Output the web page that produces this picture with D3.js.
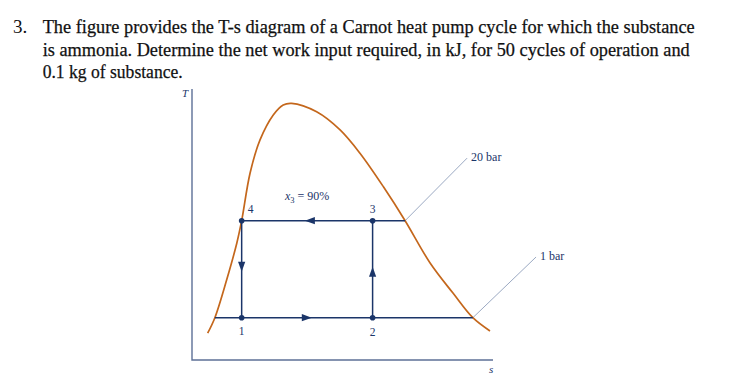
<!DOCTYPE html>
<html>
<head>
<meta charset="utf-8">
<script src="https://cdn.jsdelivr.net/npm/d3@7"></script>
<style>
	body { margin: 0; background: #fff; }
	svg { display: block; }
</style>
</head>
<body>
<script>
	// текст задачи
	const questionLines = [
		"The figure provides the T-s diagram of a Carnot heat pump cycle for which the substance",
		"is ammonia. Determine the net work input required, in kJ, for 50 cycles of operation and",
		"0.1 kg of substance."
	];
	const questionLengths = [652, 647, 140];

	// купол насыщения (s, T) в условных единицах
	const domeS = [0.52, 0.76, 1.15, 1.49, 1.65, 1.93, 2.26, 2.70, 3.03, 3.31, 4.14, 4.92, 5.58, 6.36, 7.08, 7.91, 8.67, 9.33, 9.90];
	const domeT = [0.99, 1.56, 2.95, 4.32, 5.14, 6.90, 8.12, 9.04, 9.41, 9.47, 9.16, 8.49, 7.63, 6.39, 5.14, 3.58, 2.47, 1.56, 1.07];

	// состояния цикла
	const stateNames = ["1", "2", "3", "4"];
	const stateS = [1.65, 6.0, 6.0, 1.65];
	const stateT = [1.56, 1.56, 5.14, 5.14];

	// изобары: начало на куполе, конец на куполе
	const isobarLabels = ["1 bar", "20 bar"];
	const isobarT = [1.56, 5.14];
	const isobarS0 = [0.76, 1.65];
	const isobarS1 = [9.33, 7.08];
	const leaderS = [11.43, 9.14];
	const leaderT = [3.80, 7.45];

	// стрелки на процессах
	const arrowS = [3.98, 6.0, 3.75, 1.65];
	const arrowT = [1.56, 3.44, 5.14, 3.26];
	const arrowDir = ["right", "up", "left", "down"];

	const w = 745,
		h = 382;

	const navy = "#1b3569",
		brown = "#c4671c",
		axisColor = "#5d7097",
		thin = "#8193b3";

	const x = d3.scaleLinear().domain([0, 10]).range([192, 493]),
		y = d3.scaleLinear().domain([0, 10]).range([360, 89]);

	const svg = d3.select("body").append("svg")
		.attr("width", w)
		.attr("height", h);

	// заголовок
	svg.append("text")
		.attr("x", 13)
		.attr("y", 33)
		.attr("font-family", "Liberation Serif, serif")
		.attr("font-size", 19)
		.attr("fill", "#111")
		.text("3.");

	svg.selectAll("text.q")
		.data(questionLines)
		.enter()
		.append("text")
		.attr("class", "q")
		.attr("x", 42.7)
		.attr("y", (d, i) => 33 + i * 22.5)
		.attr("font-family", "Liberation Serif, serif")
		.attr("font-size", 19)
		.attr("fill", "#111")
		.attr("stroke", "#111")
		.attr("stroke-width", 0.25)
		.attr("textLength", (d, i) => questionLengths[i])
		.attr("lengthAdjust", "spacingAndGlyphs")
		.text(d => d);

	// оси
	svg.append("path")
		.attr("d", `M${x(0)},${y(10)}V${y(0)}H${x(10)}`)
		.attr("fill", "none")
		.attr("stroke", axisColor)
		.attr("stroke-width", 1.4);

	svg.append("text")
		.attr("x", x(0) - 10)
		.attr("y", y(10) + 8)
		.attr("font-family", "Liberation Serif, serif")
		.attr("font-style", "italic")
		.attr("font-size", 11)
		.attr("fill", navy)
		.text("T");

	svg.append("text")
		.attr("x", x(10) - 4)
		.attr("y", y(0) + 13)
		.attr("font-family", "Liberation Serif, serif")
		.attr("font-style", "italic")
		.attr("font-size", 11)
		.attr("fill", navy)
		.text("s");

	// выноски изобар
	svg.selectAll("line.leader")
		.data(isobarLabels)
		.enter()
		.append("line")
		.attr("class", "leader")
		.attr("x1", (d, i) => x(isobarS1[i]))
		.attr("y1", (d, i) => y(isobarT[i]))
		.attr("x2", (d, i) => x(leaderS[i]))
		.attr("y2", (d, i) => y(leaderT[i]))
		.attr("stroke", thin)
		.attr("stroke-width", 0.8);

	svg.selectAll("text.bar")
		.data(isobarLabels)
		.enter()
		.append("text")
		.attr("class", "bar")
		.attr("x", (d, i) => x(leaderS[i]) + 4)
		.attr("y", (d, i) => y(leaderT[i]) + 3)
		.attr("font-family", "Liberation Serif, serif")
		.attr("font-size", 12)
		.attr("fill", navy)
		.text(d => d);

	// купол
	const dome = domeS.map((s, i) => [s, domeT[i]]);

	svg.append("path")
		.datum(dome)
		.attr("d", d3.line()
			.x(d => x(d[0]))
			.y(d => y(d[1]))
			.curve(d3.curveCatmullRom.alpha(0.5)))
		.attr("fill", "none")
		.attr("stroke", brown)
		.attr("stroke-width", 1.7);

	// изобары
	svg.selectAll("line.isobar")
		.data(isobarT)
		.enter()
		.append("line")
		.attr("class", "isobar")
		.attr("x1", (d, i) => x(isobarS0[i]))
		.attr("x2", (d, i) => x(isobarS1[i]))
		.attr("y1", d => y(d))
		.attr("y2", d => y(d))
		.attr("stroke", navy)
		.attr("stroke-width", 1.5);

	// вертикальные процессы 1-4 и 2-3
	svg.selectAll("line.vert")
		.data([[0, 3], [1, 2]])
		.enter()
		.append("line")
		.attr("class", "vert")
		.attr("x1", d => x(stateS[d[0]]))
		.attr("x2", d => x(stateS[d[1]]))
		.attr("y1", d => y(stateT[d[0]]))
		.attr("y2", d => y(stateT[d[1]]))
		.attr("stroke", navy)
		.attr("stroke-width", 1.5);

	// стрелки
	const rot = { right: 0, down: 90, left: 180, up: 270 };

	svg.selectAll("path.arrow")
		.data(arrowDir)
		.enter()
		.append("path")
		.attr("class", "arrow")
		.attr("d", "M0,0L-10,-3.6L-10,3.6Z")
		.attr("transform", (d, i) => `translate(${x(arrowS[i])},${y(arrowT[i])}) rotate(${rot[d]})`)
		.attr("fill", navy);

	// точки состояний
	svg.selectAll("circle.state")
		.data(stateNames)
		.enter()
		.append("circle")
		.attr("class", "state")
		.attr("cx", (d, i) => x(stateS[i]))
		.attr("cy", (d, i) => y(stateT[i]))
		.attr("r", 2.8)
		.attr("fill", navy);

	const labelDx = [0, 0, 0, 9],
		labelDy = [17, 18, -8, -8];

	svg.selectAll("text.state")
		.data(stateNames)
		.enter()
		.append("text")
		.attr("class", "state")
		.attr("x", (d, i) => x(stateS[i]) + labelDx[i])
		.attr("y", (d, i) => y(stateT[i]) + labelDy[i])
		.attr("text-anchor", "middle")
		.attr("font-family", "Liberation Serif, serif")
		.attr("font-size", 11.5)
		.attr("fill", navy)
		.text(d => d);

	// сухость x3
	const q = svg.append("text")
		.attr("x", 285)
		.attr("y", 200)
		.attr("font-family", "Liberation Serif, serif")
		.attr("font-size", 12)
		.attr("fill", navy);

	q.append("tspan").attr("font-style", "italic").text("x");
	q.append("tspan").attr("font-size", 8.5).attr("dy", 2.5).text("3");
	q.append("tspan").attr("dy", -2.5).text(" = 90%");
</script>
</body>
</html>
